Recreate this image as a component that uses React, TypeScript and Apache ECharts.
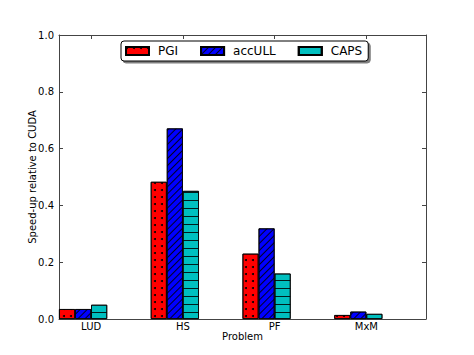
import React, { useEffect, useRef } from "react";
import * as echarts from "echarts";

const categories = ["LUD", "HS", "PF", "MxM"];
const seriesNames = ["PGI", "accULL", "CAPS"];
const pgiValues = [0.035, 0.483, 0.23, 0.014];
const accullValues = [0.035, 0.671, 0.319, 0.026];
const capsValues = [0.05, 0.451, 0.16, 0.018];
const groupStarts = [0, 1, 2, 3];
const barUnit = 0.175;

const FONT = "DejaVu Sans";

export default function App() {
  const ref = useRef<HTMLDivElement>(null);
  useEffect(() => {
    if (!ref.current) return;
    const chart = echarts.init(ref.current, undefined, { renderer: "svg" });
    const centers = groupStarts.map((g) => g + 1.5 * barUnit);
    const tickPos = groupStarts.map((g) => g + 2 * barUnit);
    const labelFor = (v: number) => {
      const i = tickPos.findIndex((t) => Math.abs(t - v) < 1e-6);
      return i >= 0 ? categories[i] : "";
    };
    const allValues = [pgiValues, accullValues, capsValues];
    const colors = ["#ff0000", "#0000ff", "#00bfbf"];
    const decals: any[] = [
      {
        symbol: "circle",
        symbolSize: 1,
        color: "#000",
        dashArrayX: [[2, 5]],
        dashArrayY: [2, 5],
        rotation: 0,
      },
      {
        symbol: "rect",
        symbolSize: 1,
        color: "rgba(0,0,0,0.85)",
        dashArrayX: [1, 0],
        dashArrayY: [1, 4],
        rotation: -Math.PI / 4,
      },
      {
        symbol: "rect",
        symbolSize: 1,
        color: "rgba(0,0,0,0.85)",
        dashArrayX: [1, 0],
        dashArrayY: [1, 6.5],
        rotation: 0,
      },
    ];
    const axisLine = { show: true, onZero: false, lineStyle: { color: "#444", width: 1 } };
    const tickStyle = { show: true, inside: true, length: 4, lineStyle: { color: "#444" } };
    chart.setOption({
      animation: false,
      textStyle: { fontFamily: FONT },
      grid: { left: 59, right: 48, top: 35, bottom: 36, containLabel: false },
      legend: {
        data: seriesNames,
        left: 121,
        top: 41,
        orient: "horizontal",
        icon: "rect",
        itemWidth: 23,
        itemHeight: 8,
        itemGap: 22,
        padding: [4, 6, 4, 4],
        backgroundColor: "#fff",
        borderColor: "#000",
        borderWidth: 1,
        borderRadius: 3,
        shadowColor: "rgba(0,0,0,0.5)",
        shadowOffsetX: 2,
        shadowOffsetY: 2,
        shadowBlur: 0,
        textStyle: { fontFamily: FONT, fontSize: 12, color: "#000", padding: [0, 0, 0, 4] },
      },
      xAxis: [
        {
          type: "value",
          min: 0,
          max: 4,
          position: "bottom",
          name: "Problem",
          nameLocation: "middle",
          nameGap: 12,
          nameMoveOverlap: false,
          nameTextStyle: { fontFamily: FONT, fontSize: 10, color: "#000" },
          axisLine,
          axisTick: { ...tickStyle, customValues: tickPos },
          axisLabel: {
            customValues: tickPos,
            formatter: (v: number) => labelFor(v),
            fontFamily: FONT,
            fontSize: 10,
            color: "#000",
            margin: 2,
          },
          splitLine: { show: false },
        },
        {
          type: "value",
          min: 0,
          max: 4,
          position: "top",
          axisLine,
          axisTick: { ...tickStyle, customValues: tickPos },
          axisLabel: { show: false, customValues: tickPos },
          splitLine: { show: false },
        },
      ],
      yAxis: [
        {
          type: "value",
          min: 0,
          max: 1,
          interval: 0.2,
          position: "left",
          name: "Speed-up relative to CUDA",
          nameLocation: "middle",
          nameGap: 22,
          nameMoveOverlap: false,
          nameTextStyle: { fontFamily: FONT, fontSize: 10, color: "#000" },
          axisLine,
          axisTick: tickStyle,
          axisLabel: {
            formatter: (v: number) => v.toFixed(1),
            fontFamily: FONT,
            fontSize: 10,
            color: "#000",
            margin: 5,
          },
          splitLine: { show: false },
        },
        {
          type: "value",
          min: 0,
          max: 1,
          interval: 0.2,
          position: "right",
          axisLine,
          axisTick: tickStyle,
          axisLabel: { show: false },
          splitLine: { show: false },
        },
      ],
      series: seriesNames.map((name, si) => ({
        name,
        type: "bar",
        xAxisIndex: 0,
        yAxisIndex: 0,
        barWidth: `${barUnit * 100}%`,
        barGap: "0%",
        itemStyle: {
          color: colors[si],
          borderColor: "#000",
          borderWidth: 0.8,
          decal: decals[si],
        },
        data: centers.map((c, i) => [c, allValues[si][i]]),
      })),
    });
    return () => chart.dispose();
  }, []);
  return (
    <div
      ref={ref}
      style={{ position: "fixed", left: 0, top: 0, width: 474, height: 355, background: "#fff" }}
    />
  );
}
